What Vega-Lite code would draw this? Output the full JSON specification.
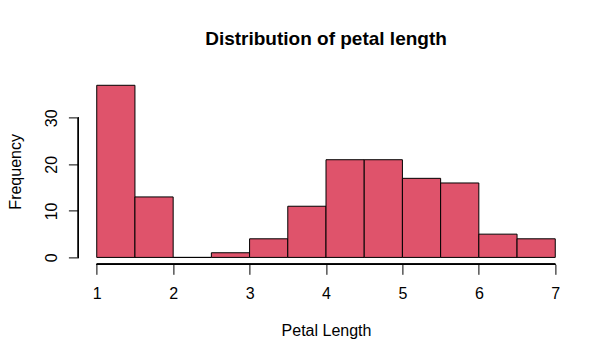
{
  "$schema": "https://vega.github.io/schema/vega-lite/v6.json",
  "autosize": {"type": "none"},
  "width": 495.2,
  "height": 185.9,
  "padding": {"left": 78.4, "top": 78.4, "right": 40.4, "bottom": 97.7},
  "background": "white",
  "config": {
    "view": {"stroke": null},
    "font": "Liberation Sans",
    "axis": {"grid": false, "domain": false, "tickColor": "black", "tickWidth": 1, "tickSize": 10, "labelFont": "Liberation Sans", "labelFontSize": 16, "labelColor": "black", "titleFont": "Liberation Sans", "titleFontSize": 16, "titleFontWeight": "normal", "titleColor": "black"}
  },
  "title": {"text": "Distribution of petal length", "font": "Liberation Sans", "fontSize": 19, "fontWeight": "bold", "color": "black", "anchor": "middle", "frame": "group", "offset": 29},
  "data": {"values": [
    {"start": 1.0, "end": 1.5, "count": 37},
    {"start": 1.5, "end": 2.0, "count": 13},
    {"start": 2.0, "end": 2.5, "count": 0},
    {"start": 2.5, "end": 3.0, "count": 1},
    {"start": 3.0, "end": 3.5, "count": 4},
    {"start": 3.5, "end": 4.0, "count": 11},
    {"start": 4.0, "end": 4.5, "count": 21},
    {"start": 4.5, "end": 5.0, "count": 21},
    {"start": 5.0, "end": 5.5, "count": 17},
    {"start": 5.5, "end": 6.0, "count": 16},
    {"start": 6.0, "end": 6.5, "count": 5},
    {"start": 6.5, "end": 7.0, "count": 4}
  ]},
  "layer": [
    {
      "mark": {"type": "rect", "fill": "#DF536B", "stroke": "black", "strokeWidth": 1},
      "encoding": {
        "x": {"field": "start", "type": "quantitative", "scale": {"domain": [0.76, 7.24], "nice": false, "zero": false},
              "axis": {"values": [1, 2, 3, 4, 5, 6, 7], "title": "Petal Length", "labelBaseline": "middle", "labelPadding": 19, "labelFlush": false, "titleY": 66, "titleBaseline": "middle", "format": "d"}},
        "x2": {"field": "end"},
        "y": {"field": "count", "type": "quantitative", "scale": {"domain": [-1.48, 38.48], "nice": false, "zero": false},
              "axis": {"values": [0, 10, 20, 30], "title": "Frequency", "labelAngle": 270, "labelAlign": "center", "labelBaseline": "middle", "labelPadding": 17.4, "labelFlush": false, "titleX": -63.4, "titleAngle": 270, "titleBaseline": "middle", "format": "d"}},
        "y2": {"datum": 0}
      }
    },
    {
      "mark": {"type": "rule", "color": "black", "strokeWidth": 1},
      "encoding": {"x": {"datum": 1}, "x2": {"datum": 7}, "y": {"datum": -1.48}}
    },
    {
      "mark": {"type": "rule", "color": "black", "strokeWidth": 1},
      "encoding": {"x": {"datum": 0.76}, "y": {"datum": 0}, "y2": {"datum": 30}}
    }
  ]
}
